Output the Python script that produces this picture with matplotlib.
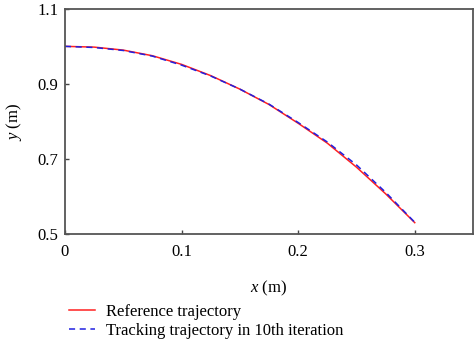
import matplotlib
matplotlib.use('Agg')
import matplotlib.pyplot as plt
import numpy as np

# x positions (m)
x = [0, 0.025, 0.05, 0.075, 0.1, 0.125, 0.15, 0.175, 0.2, 0.225, 0.25, 0.275, 0.3]
# reference trajectory y (m)
y_ref = [1.000, 0.998, 0.990, 0.975, 0.952, 0.922, 0.886, 0.845, 0.795, 0.742, 0.678, 0.607, 0.530]
# tracking trajectory in 10th iteration y (m)
y_track = [1.000, 0.997, 0.989, 0.974, 0.950, 0.921, 0.886, 0.846, 0.797, 0.745, 0.684, 0.611, 0.531]

xticks = [0, 0.1, 0.2, 0.3]
xticklabels = ['0', '0.1', '0.2', '0.3']
yticks = [0.5, 0.7, 0.9, 1.1]
yticklabels = ['0.5', '0.7', '0.9', '1.1']

plt.rcParams['font.family'] = 'Liberation Serif'
plt.rcParams['font.size'] = 12
plt.rcParams['mathtext.fontset'] = 'custom'
plt.rcParams['mathtext.it'] = 'Liberation Serif:italic'
plt.rcParams['mathtext.rm'] = 'Liberation Serif'

fig = plt.figure(figsize=(4.74, 3.4), dpi=100)
ax = fig.add_axes([0.137, 0.312, 0.861, 0.662])

l1, = ax.plot(x, y_ref, color='#ff2020', lw=1.1, label='Reference trajectory')
l2, = ax.plot(x, y_track, color='#2020e0', lw=1.1, ls=(0, (4, 3)),
              label='Tracking trajectory in 10th iteration')

ax.set_xlim(0, 0.35)
ax.set_ylim(0.5, 1.1)
ax.set_xticks(xticks)
ax.set_xticklabels(xticklabels)
ax.set_yticks(yticks)
ax.set_yticklabels(yticklabels)
ax.tick_params(direction='in', length=3, width=1, color='#444444', pad=7)
ax.tick_params(axis='y', pad=5)

for s in ax.spines.values():
    s.set_color('#555555')
    s.set_linewidth(1.3)

ax.set_xlabel(r'$\it{x}$ (m)', labelpad=14)
ax.set_ylabel(r'$\it{y}$ (m)', labelpad=9)

fig.legend(handles=[l1, l2], loc='upper left', bbox_to_anchor=(0.145, 0.105),
           frameon=False, handlelength=1.6, handletextpad=0.65,
           labelspacing=0.15, borderaxespad=0, borderpad=0)

fig.savefig('out.png', dpi=100)
